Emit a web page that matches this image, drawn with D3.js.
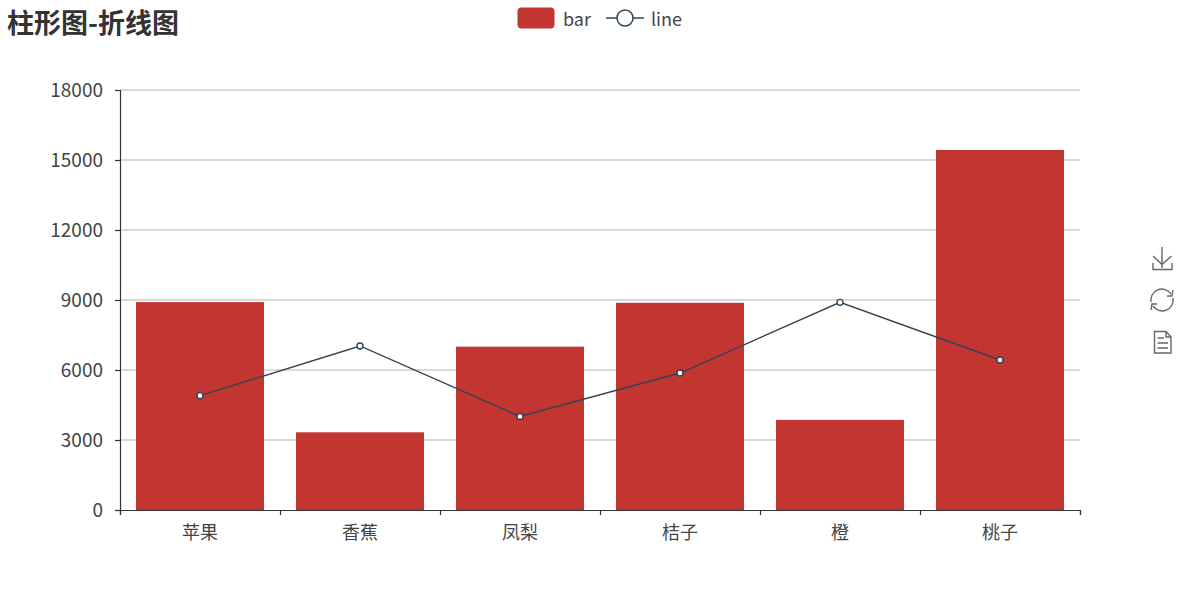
<html>
    <head>
        <meta charset="utf-8">
        <script src="https://d3js.org/d3.v7.min.js"></script>
        <style>
            html, body{
                margin: 0;
                padding: 0;
                background: #fff;
            }
            text{
                font-family: 'Noto Sans CJK SC', 'Noto Sans', sans-serif;
            }
            svg{
                display: block;
            }
        </style>
    </head>
    <body>
        <svg id="svg" width="1200" height="600"></svg>
        <script>
            var categories = ['苹果', '香蕉', '凤梨', '桔子', '橙', '桃子'];
            var barValues = [8910, 3330, 7000, 8880, 3860, 15430];
            var lineValues = [4900, 7030, 4010, 5870, 8900, 6430];
            var yTicks = [0, 3000, 6000, 9000, 12000, 15000, 18000];

            var barColor = '#c23531';
            var lineColor = '#2f4554';
            var textColor = '#333';
            var labelColor = '#444';

            var svg = d3.select("svg");
            var plotLeft = 120, plotRight = 1080, plotTop = 90, plotBottom = 510;

            var x = d3.scaleBand().domain(categories).range([plotLeft, plotRight]).paddingInner(0.2).paddingOuter(0.1);
            var xEdges = d3.scaleLinear().domain([0, categories.length]).range([plotLeft, plotRight]);
            var y = d3.scaleLinear().domain([0, 18000]).range([plotBottom, plotTop]);

            // title
            svg.append("text").attr("x", 7).attr("y", 33)
                .attr("font-size", 27).attr("font-weight", "bold").attr("fill", textColor)
                .text("柱形图-折线图");

            // grid lines
            svg.append("g").selectAll("line").data(yTicks.slice(1)).enter().append("line")
                .attr("x1", plotLeft).attr("x2", plotRight)
                .attr("y1", function(d){ return y(d); }).attr("y2", function(d){ return y(d); })
                .attr("stroke", "#ccc").attr("stroke-width", 1.4);

            // bars
            svg.append("g").selectAll("rect").data(barValues).enter().append("rect")
                .attr("x", function(d, i){ return x(categories[i]); })
                .attr("y", function(d){ return y(d); })
                .attr("width", x.bandwidth())
                .attr("height", function(d){ return y(0) - y(d); })
                .attr("fill", barColor);

            // axes
            var yAxis = svg.append("g").attr("transform", "translate(" + plotLeft + ",0)")
                .call(d3.axisLeft(y).tickValues(yTicks).tickSize(5).tickPadding(12).tickFormat(d3.format("d")));
            var xTickAxis = svg.append("g").attr("transform", "translate(0," + plotBottom + ")")
                .call(d3.axisBottom(xEdges).ticks(categories.length).tickSize(5).tickFormat(""));
            var xAxis = svg.append("g").attr("transform", "translate(0," + plotBottom + ")")
                .call(d3.axisBottom(x).tickSize(0).tickPadding(12));
            xAxis.select(".domain").remove();

            svg.selectAll(".domain").attr("stroke", textColor).attr("stroke-width", 1.2);
            svg.selectAll(".tick line").attr("stroke", textColor).attr("stroke-width", 1.2);
            svg.selectAll(".tick text").attr("fill", labelColor).attr("font-size", 18)
                .style("font-family", "'Noto Sans CJK SC', 'Noto Sans', sans-serif");
            yAxis.selectAll(".tick text").attr("font-size", 19);
            xAxis.selectAll(".tick text").attr("dy", "0.95em");

            // line series
            var lineGen = d3.line()
                .x(function(d, i){ return x(categories[i]) + x.bandwidth() / 2; })
                .y(function(d){ return y(d); });
            svg.append("path").datum(lineValues)
                .attr("d", lineGen).attr("fill", "none")
                .attr("stroke", lineColor).attr("stroke-width", 1.4);
            svg.append("g").selectAll("circle").data(lineValues).enter().append("circle")
                .attr("cx", function(d, i){ return x(categories[i]) + x.bandwidth() / 2; })
                .attr("cy", function(d){ return y(d); })
                .attr("r", 3).attr("fill", "#fff")
                .attr("stroke", lineColor).attr("stroke-width", 1.4);

            // legend
            var legend = svg.append("g");
            legend.append("rect").attr("x", 517.5).attr("y", 7.5).attr("width", 37).attr("height", 21).attr("rx", 4)
                .attr("fill", barColor);
            legend.append("text").attr("x", 563).attr("y", 26).attr("font-size", 18).attr("fill", labelColor).text("bar");
            legend.append("line").attr("x1", 606).attr("x2", 644).attr("y1", 18).attr("y2", 18)
                .attr("stroke", lineColor).attr("stroke-width", 1.5);
            legend.append("circle").attr("cx", 625).attr("cy", 18).attr("r", 8).attr("fill", "#fff")
                .attr("stroke", lineColor).attr("stroke-width", 1.5);
            legend.append("text").attr("x", 651).attr("y", 26).attr("font-size", 18).attr("fill", labelColor).text("line");

            // toolbox icons
            var tools = svg.append("g").attr("fill", "none").attr("stroke", "#666").attr("stroke-width", 1.4);
            tools.append("path").attr("d", "M1162 247V268M1153 256L1162 264.5L1171.5 256M1153 263V269.5H1172V263");
            tools.append("path").attr("d", "M1151 302A11 11 0 0 1 1171 294M1173 298A11 11 0 0 1 1153 306");
            tools.append("path").attr("d", "M1167 296L1172 296L1173 290M1157 304L1152 304L1151 310");
            tools.append("path").attr("d", "M1154.5 331.5H1166L1171 337V353H1154.5ZM1166 331.5V337H1171M1157.5 338H1164M1157.5 343H1168M1157.5 348H1168");
        </script>
    </body>
</html>
